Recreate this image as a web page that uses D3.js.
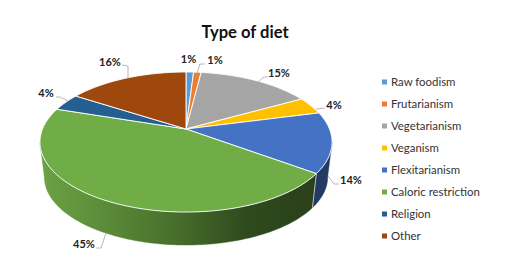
<!DOCTYPE html>
<html><head><meta charset="utf-8">
<script src="https://cdn.jsdelivr.net/npm/d3@7"></script>
<style>html,body{margin:0;padding:0;background:#fff}svg{display:block}text{font-family:Lato,"Open Sans",sans-serif}</style>
</head><body><div id="c"></div>
<script>
const categories = ["Raw foodism","Frutarianism","Vegetarianism","Veganism","Flexitarianism","Caloric restriction","Religion","Other"];
const values = [1,1,15,4,14,45,4,16];
const colors = ["#5b9bd5","#ed7d31","#a5a5a5","#ffc000","#4472c4","#70ad47","#255e91","#9e480e"];
const labels = ["1%","1%","15%","4%","14%","45%","4%","16%"];

const W=513,H=276;
const svg=d3.select("#c").append("svg").attr("width",W).attr("height",H);
svg.append("rect").attr("width",W).attr("height",H).attr("fill","#fff");
const color=d3.scaleOrdinal(categories,colors);
const arcs=d3.pie().sort(null).value(d=>d)(values);

// perspective projection of a tilted disc
const cx=186, cy=129, a=143.5, b=67.6, p=0.186;
const proj=(t,s=1,dy=0)=>{const w=1+p*Math.cos(t);return [cx+s*a*Math.sin(t)/w, cy+dy+s*b*(-Math.cos(t))/w];};
const sample=(t0,t1,s,dy)=>{const n=Math.max(2,Math.ceil(Math.abs(t1-t0)/0.02));return d3.range(n+1).map(i=>proj(t0+(t1-t0)*i/n,s,dy));};
const line=d3.line();

const defs=svg.append("defs");
const g=defs.append("linearGradient").attr("id","wall").attr("gradientUnits","userSpaceOnUse").attr("x1",40).attr("x2",316).attr("y1",0).attr("y2",0);
[[0,"#6ca244"],[0.25,"#5a8a38"],[0.5,"#466d2b"],[0.75,"#2f4a1d"],[1,"#2a4019"]].forEach(s=>g.append("stop").attr("offset",s[0]).attr("stop-color",s[1]));

// side wall: only the front part of the rim is visible
const visA=Math.acos(-p), visB=2*Math.PI-visA, baseS=0.97, baseDy=35.5;
const wallFill=i=>categories[i]==="Caloric restriction"?"url(#wall)":d3.color(colors[i]).darker(1.9);
arcs.forEach((d,i)=>{
  const t0=Math.max(d.startAngle,visA), t1=Math.min(d.endAngle,visB);
  if(t1<=t0) return;
  const pts=sample(t0,t1,1,0).concat(sample(t1,t0,baseS,baseDy));
  svg.append("path").attr("d",line(pts)+"Z").attr("fill",wallFill(i)).attr("stroke",wallFill(i)).attr("stroke-width",0.4);
});
// seam between walls
const seam=arcs.findIndex(d=>d.startAngle>visA&&d.startAngle<visB);
svg.append("path").attr("d",line([proj(arcs[seam].startAngle),proj(arcs[seam].startAngle,baseS,baseDy)])).attr("stroke","#d9d9d9").attr("stroke-width",0.8).attr("fill","none");

// top face
svg.append("g").selectAll("path").data(arcs).join("path")
  .attr("d",d=>line([[cx,cy]].concat(sample(d.startAngle,d.endAngle,1,0)))+"Z")
  .attr("fill",(d,i)=>color(categories[i]))
  .attr("stroke","#fff").attr("stroke-width",0.9).attr("stroke-linejoin","round");

// title
svg.append("text").attr("x",245).attr("y",37.5).attr("text-anchor","middle").attr("font-size",16.6).attr("font-weight",700).attr("fill","#111").text("Type of diet");

// data labels and leader lines
const labelPos=[[188.5,59],[215,60],[279,73],[334,105],[351,180],[84,244],[46,93],[110,62]];
const leaders=[null,[[197,73],[200,64],[205,64]],[[258,82],[264,77],[268,77]],[[316,109],[325,108]],[[328,176],[334,184],[339,184]],[[106,233],[101,248],[96,248]],[[68,101],[60,97],[56,97]],[[128,78],[128,66],[122,65]]];
svg.append("g").selectAll("path").data(leaders.filter(Boolean)).join("path")
  .attr("d",d=>line(d)).attr("fill","none").attr("stroke","#a6a6a6").attr("stroke-width",0.8);
svg.append("g").selectAll("text").data(labels).join("text")
  .attr("x",(d,i)=>labelPos[i][0]).attr("y",(d,i)=>labelPos[i][1]).attr("dy","0.35em")
  .attr("text-anchor","middle").attr("font-size",11).attr("font-weight",700).attr("fill","#222").text(d=>d);

// legend
const ly=d3.scalePoint(categories,[82,236]);
const leg=svg.append("g").selectAll("g").data(categories).join("g").attr("transform",d=>`translate(382,${ly(d)})`);
leg.append("rect").attr("x",0).attr("y",-2.5).attr("width",5).attr("height",5).attr("fill",d=>color(d));
leg.append("text").attr("x",9).attr("dy","0.35em").attr("font-size",11.4).attr("fill","#333").text(d=>d);
</script></body></html>
